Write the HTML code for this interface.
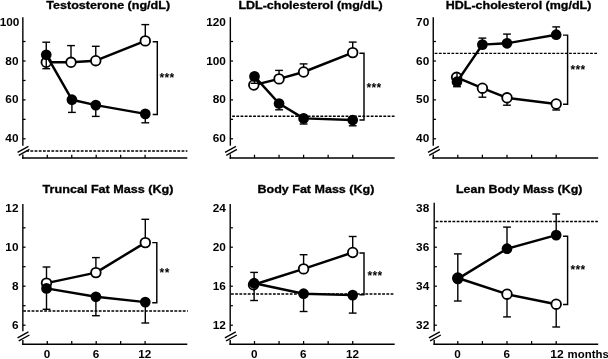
<!DOCTYPE html>
<html><head><meta charset="utf-8"><title>Figure</title>
<style>
html,body{margin:0;padding:0;background:#fff;}
body{width:608px;height:359px;overflow:hidden;}
svg{display:block;}
text{font-family:"Liberation Sans",Arial,Helvetica,sans-serif;font-weight:bold;fill:#000;}
.t{stroke:#000;stroke-width:0.3px;}
</style></head><body>
<svg width="608" height="359" viewBox="0 0 608 359">
<rect width="608" height="359" fill="#fff"/>
<g>
<text class="t" x="46.30" y="8.70" font-size="10.9" text-anchor="start" textLength="123.8" lengthAdjust="spacingAndGlyphs">Testosterone (ng/dL)</text>
<line x1="22.85" y1="17.20" x2="22.85" y2="145.70" stroke="#000" stroke-width="1.4" />
<line x1="22.85" y1="154.40" x2="22.85" y2="158.70" stroke="#000" stroke-width="1.4" />
<line x1="22.15" y1="158.00" x2="187.30" y2="158.00" stroke="#000" stroke-width="1.4" />
<line x1="17.55" y1="152.30" x2="28.45" y2="146.30" stroke="#000" stroke-width="1.35" />
<line x1="18.75" y1="155.30" x2="29.45" y2="149.40" stroke="#000" stroke-width="1.35" />
<line x1="22.85" y1="41.50" x2="25.55" y2="41.50" stroke="#000" stroke-width="1.25" />
<line x1="22.85" y1="61.00" x2="25.55" y2="61.00" stroke="#000" stroke-width="1.25" />
<line x1="22.85" y1="80.45" x2="25.55" y2="80.45" stroke="#000" stroke-width="1.25" />
<line x1="22.85" y1="99.90" x2="25.55" y2="99.90" stroke="#000" stroke-width="1.25" />
<line x1="22.85" y1="119.35" x2="25.55" y2="119.35" stroke="#000" stroke-width="1.25" />
<line x1="22.85" y1="138.80" x2="25.55" y2="138.80" stroke="#000" stroke-width="1.25" />
<line x1="47.30" y1="158.00" x2="47.30" y2="154.70" stroke="#000" stroke-width="1.25" />
<line x1="71.75" y1="158.00" x2="71.75" y2="154.70" stroke="#000" stroke-width="1.25" />
<line x1="96.20" y1="158.00" x2="96.20" y2="154.70" stroke="#000" stroke-width="1.25" />
<line x1="120.65" y1="158.00" x2="120.65" y2="154.70" stroke="#000" stroke-width="1.25" />
<line x1="145.10" y1="158.00" x2="145.10" y2="154.70" stroke="#000" stroke-width="1.25" />
<text transform="translate(19.40,25.70) scale(1.17,1)" font-size="10.1" text-anchor="end">100</text>
<text transform="translate(18.50,64.50) scale(1.17,1)" font-size="10.1" text-anchor="end">80</text>
<text transform="translate(18.50,103.40) scale(1.17,1)" font-size="10.1" text-anchor="end">60</text>
<text transform="translate(18.50,142.30) scale(1.17,1)" font-size="10.1" text-anchor="end">40</text>
<line x1="26.70" y1="150.90" x2="187.40" y2="150.90" stroke="#000" stroke-width="1.5" stroke-dasharray="2.8 1.4" stroke-dashoffset="0.54"/>
<line x1="71.01" y1="62.30" x2="71.01" y2="45.60" stroke="#000" stroke-width="1.4" />
<line x1="67.11" y1="45.60" x2="74.91" y2="45.60" stroke="#000" stroke-width="1.4" />
<line x1="95.77" y1="60.70" x2="95.77" y2="46.30" stroke="#000" stroke-width="1.4" />
<line x1="91.87" y1="46.30" x2="99.67" y2="46.30" stroke="#000" stroke-width="1.4" />
<line x1="145.29" y1="40.90" x2="145.29" y2="24.60" stroke="#000" stroke-width="1.4" />
<line x1="141.39" y1="24.60" x2="149.19" y2="24.60" stroke="#000" stroke-width="1.4" />
<polyline points="46.25,62.30 71.01,62.30 95.77,60.70 145.29,40.90" fill="none" stroke="#000" stroke-width="2.45" stroke-linejoin="round"/>
<circle cx="46.25" cy="62.30" r="4.8" fill="#fff" stroke="#000" stroke-width="1.8"/>
<circle cx="71.01" cy="62.30" r="4.8" fill="#fff" stroke="#000" stroke-width="1.8"/>
<circle cx="95.77" cy="60.70" r="4.8" fill="#fff" stroke="#000" stroke-width="1.8"/>
<circle cx="145.29" cy="40.90" r="4.8" fill="#fff" stroke="#000" stroke-width="1.8"/>
<line x1="46.25" y1="54.80" x2="46.25" y2="42.20" stroke="#000" stroke-width="1.4" />
<line x1="42.35" y1="42.20" x2="50.15" y2="42.20" stroke="#000" stroke-width="1.4" />
<line x1="46.25" y1="54.80" x2="46.25" y2="68.70" stroke="#000" stroke-width="1.4" />
<line x1="42.35" y1="68.70" x2="50.15" y2="68.70" stroke="#000" stroke-width="1.4" />
<line x1="71.91" y1="99.70" x2="71.91" y2="112.40" stroke="#000" stroke-width="1.4" />
<line x1="68.01" y1="112.40" x2="75.81" y2="112.40" stroke="#000" stroke-width="1.4" />
<line x1="95.77" y1="105.10" x2="95.77" y2="116.40" stroke="#000" stroke-width="1.4" />
<line x1="91.87" y1="116.40" x2="99.67" y2="116.40" stroke="#000" stroke-width="1.4" />
<line x1="145.29" y1="113.90" x2="145.29" y2="122.80" stroke="#000" stroke-width="1.4" />
<line x1="141.39" y1="122.80" x2="149.19" y2="122.80" stroke="#000" stroke-width="1.4" />
<polyline points="46.25,54.80 71.91,99.70 95.77,105.10 145.29,113.90" fill="none" stroke="#000" stroke-width="2.45" stroke-linejoin="round"/>
<circle cx="46.25" cy="54.80" r="5.35" fill="#000"/>
<circle cx="71.91" cy="99.70" r="5.35" fill="#000"/>
<circle cx="95.77" cy="105.10" r="5.35" fill="#000"/>
<circle cx="145.29" cy="113.90" r="5.35" fill="#000"/>
<polyline points="152.70,41.80 157.30,41.80 157.30,114.50 152.70,114.50" fill="none" stroke="#000" stroke-width="1.45"/>
<text x="159.60" y="81.80" font-size="12" textLength="14.61" lengthAdjust="spacing">***</text>
</g>
<g>
<text class="t" x="238.40" y="8.70" font-size="10.9" text-anchor="start" textLength="144.3" lengthAdjust="spacingAndGlyphs">LDL-cholesterol (mg/dL)</text>
<line x1="230.35" y1="17.20" x2="230.35" y2="145.70" stroke="#000" stroke-width="1.4" />
<line x1="230.35" y1="154.40" x2="230.35" y2="158.70" stroke="#000" stroke-width="1.4" />
<line x1="229.65" y1="158.00" x2="394.70" y2="158.00" stroke="#000" stroke-width="1.4" />
<line x1="225.05" y1="152.30" x2="235.95" y2="146.30" stroke="#000" stroke-width="1.35" />
<line x1="226.25" y1="155.30" x2="236.95" y2="149.40" stroke="#000" stroke-width="1.35" />
<line x1="230.35" y1="41.50" x2="233.05" y2="41.50" stroke="#000" stroke-width="1.25" />
<line x1="230.35" y1="61.00" x2="233.05" y2="61.00" stroke="#000" stroke-width="1.25" />
<line x1="230.35" y1="80.45" x2="233.05" y2="80.45" stroke="#000" stroke-width="1.25" />
<line x1="230.35" y1="99.90" x2="233.05" y2="99.90" stroke="#000" stroke-width="1.25" />
<line x1="230.35" y1="119.35" x2="233.05" y2="119.35" stroke="#000" stroke-width="1.25" />
<line x1="230.35" y1="138.80" x2="233.05" y2="138.80" stroke="#000" stroke-width="1.25" />
<line x1="254.50" y1="158.00" x2="254.50" y2="154.70" stroke="#000" stroke-width="1.25" />
<line x1="279.05" y1="158.00" x2="279.05" y2="154.70" stroke="#000" stroke-width="1.25" />
<line x1="303.60" y1="158.00" x2="303.60" y2="154.70" stroke="#000" stroke-width="1.25" />
<line x1="328.15" y1="158.00" x2="328.15" y2="154.70" stroke="#000" stroke-width="1.25" />
<line x1="352.70" y1="158.00" x2="352.70" y2="154.70" stroke="#000" stroke-width="1.25" />
<text transform="translate(225.90,25.70) scale(1.17,1)" font-size="10.1" text-anchor="end">120</text>
<text transform="translate(225.90,64.50) scale(1.17,1)" font-size="10.1" text-anchor="end">100</text>
<text transform="translate(225.90,103.40) scale(1.17,1)" font-size="10.1" text-anchor="end">80</text>
<text transform="translate(225.90,142.30) scale(1.17,1)" font-size="10.1" text-anchor="end">60</text>
<line x1="230.35" y1="116.30" x2="395.80" y2="116.30" stroke="#000" stroke-width="1.5" stroke-dasharray="2.8 1.4" stroke-dashoffset="2.40"/>
<line x1="279.05" y1="78.90" x2="279.05" y2="70.40" stroke="#000" stroke-width="1.4" />
<line x1="275.15" y1="70.40" x2="282.95" y2="70.40" stroke="#000" stroke-width="1.4" />
<line x1="303.60" y1="72.00" x2="303.60" y2="63.90" stroke="#000" stroke-width="1.4" />
<line x1="299.70" y1="63.90" x2="307.50" y2="63.90" stroke="#000" stroke-width="1.4" />
<line x1="352.70" y1="52.60" x2="352.70" y2="42.10" stroke="#000" stroke-width="1.4" />
<line x1="348.80" y1="42.10" x2="356.60" y2="42.10" stroke="#000" stroke-width="1.4" />
<polyline points="253.80,85.00 279.05,78.90 303.60,72.00 352.70,52.60" fill="none" stroke="#000" stroke-width="2.45" stroke-linejoin="round"/>
<circle cx="253.80" cy="85.00" r="4.8" fill="#fff" stroke="#000" stroke-width="1.8"/>
<circle cx="279.05" cy="78.90" r="4.8" fill="#fff" stroke="#000" stroke-width="1.8"/>
<circle cx="303.60" cy="72.00" r="4.8" fill="#fff" stroke="#000" stroke-width="1.8"/>
<circle cx="352.70" cy="52.60" r="4.8" fill="#fff" stroke="#000" stroke-width="1.8"/>
<line x1="254.50" y1="76.40" x2="254.50" y2="83.30" stroke="#000" stroke-width="1.4" />
<line x1="250.60" y1="83.30" x2="258.40" y2="83.30" stroke="#000" stroke-width="1.4" />
<line x1="279.05" y1="103.50" x2="279.05" y2="109.80" stroke="#000" stroke-width="1.4" />
<line x1="275.15" y1="109.80" x2="282.95" y2="109.80" stroke="#000" stroke-width="1.4" />
<line x1="303.60" y1="118.40" x2="303.60" y2="124.00" stroke="#000" stroke-width="1.4" />
<line x1="299.70" y1="124.00" x2="307.50" y2="124.00" stroke="#000" stroke-width="1.4" />
<line x1="352.70" y1="120.00" x2="352.70" y2="125.80" stroke="#000" stroke-width="1.4" />
<line x1="348.80" y1="125.80" x2="356.60" y2="125.80" stroke="#000" stroke-width="1.4" />
<polyline points="254.50,76.40 279.05,103.50 303.60,118.40 352.70,120.00" fill="none" stroke="#000" stroke-width="2.45" stroke-linejoin="round"/>
<circle cx="254.50" cy="76.40" r="5.35" fill="#000"/>
<circle cx="279.05" cy="103.50" r="5.35" fill="#000"/>
<circle cx="303.60" cy="118.40" r="5.35" fill="#000"/>
<circle cx="352.70" cy="120.00" r="5.35" fill="#000"/>
<polyline points="359.40,53.30 364.00,53.30 364.00,119.90 359.40,119.90" fill="none" stroke="#000" stroke-width="1.45"/>
<text x="366.60" y="91.70" font-size="12" textLength="14.61" lengthAdjust="spacing">***</text>
</g>
<g>
<text class="t" x="445.80" y="8.70" font-size="10.9" text-anchor="start" textLength="145.5" lengthAdjust="spacingAndGlyphs">HDL-cholesterol (mg/dL)</text>
<line x1="433.25" y1="17.20" x2="433.25" y2="145.70" stroke="#000" stroke-width="1.4" />
<line x1="433.25" y1="154.40" x2="433.25" y2="158.70" stroke="#000" stroke-width="1.4" />
<line x1="432.55" y1="158.00" x2="598.20" y2="158.00" stroke="#000" stroke-width="1.4" />
<line x1="427.95" y1="152.30" x2="438.85" y2="146.30" stroke="#000" stroke-width="1.35" />
<line x1="429.15" y1="155.30" x2="439.85" y2="149.40" stroke="#000" stroke-width="1.35" />
<line x1="433.25" y1="41.50" x2="435.95" y2="41.50" stroke="#000" stroke-width="1.25" />
<line x1="433.25" y1="61.00" x2="435.95" y2="61.00" stroke="#000" stroke-width="1.25" />
<line x1="433.25" y1="80.45" x2="435.95" y2="80.45" stroke="#000" stroke-width="1.25" />
<line x1="433.25" y1="99.90" x2="435.95" y2="99.90" stroke="#000" stroke-width="1.25" />
<line x1="433.25" y1="119.35" x2="435.95" y2="119.35" stroke="#000" stroke-width="1.25" />
<line x1="433.25" y1="138.80" x2="435.95" y2="138.80" stroke="#000" stroke-width="1.25" />
<line x1="457.80" y1="158.00" x2="457.80" y2="154.70" stroke="#000" stroke-width="1.25" />
<line x1="482.40" y1="158.00" x2="482.40" y2="154.70" stroke="#000" stroke-width="1.25" />
<line x1="507.00" y1="158.00" x2="507.00" y2="154.70" stroke="#000" stroke-width="1.25" />
<line x1="531.60" y1="158.00" x2="531.60" y2="154.70" stroke="#000" stroke-width="1.25" />
<line x1="556.20" y1="158.00" x2="556.20" y2="154.70" stroke="#000" stroke-width="1.25" />
<text transform="translate(429.20,25.70) scale(1.17,1)" font-size="10.1" text-anchor="end">70</text>
<text transform="translate(429.20,64.50) scale(1.17,1)" font-size="10.1" text-anchor="end">60</text>
<text transform="translate(429.20,103.40) scale(1.17,1)" font-size="10.1" text-anchor="end">50</text>
<text transform="translate(429.20,142.30) scale(1.17,1)" font-size="10.1" text-anchor="end">40</text>
<line x1="433.25" y1="53.35" x2="597.90" y2="53.35" stroke="#000" stroke-width="1.35" stroke-dasharray="2.8 1.4" stroke-dashoffset="2.79"/>
<line x1="482.40" y1="88.20" x2="482.40" y2="97.20" stroke="#000" stroke-width="1.4" />
<line x1="478.50" y1="97.20" x2="486.30" y2="97.20" stroke="#000" stroke-width="1.4" />
<line x1="507.00" y1="97.80" x2="507.00" y2="105.20" stroke="#000" stroke-width="1.4" />
<line x1="503.10" y1="105.20" x2="510.90" y2="105.20" stroke="#000" stroke-width="1.4" />
<line x1="556.20" y1="104.00" x2="556.20" y2="110.00" stroke="#000" stroke-width="1.4" />
<line x1="552.30" y1="110.00" x2="560.10" y2="110.00" stroke="#000" stroke-width="1.4" />
<polyline points="456.60,77.30 482.40,88.20 507.00,97.80 556.20,104.00" fill="none" stroke="#000" stroke-width="2.45" stroke-linejoin="round"/>
<circle cx="456.60" cy="77.30" r="4.8" fill="#fff" stroke="#000" stroke-width="1.8"/>
<circle cx="482.40" cy="88.20" r="4.8" fill="#fff" stroke="#000" stroke-width="1.8"/>
<circle cx="507.00" cy="97.80" r="4.8" fill="#fff" stroke="#000" stroke-width="1.8"/>
<circle cx="556.20" cy="104.00" r="4.8" fill="#fff" stroke="#000" stroke-width="1.8"/>
<line x1="457.00" y1="81.70" x2="457.00" y2="73.20" stroke="#000" stroke-width="1.4" />
<line x1="457.00" y1="81.70" x2="457.00" y2="86.70" stroke="#000" stroke-width="1.4" />
<line x1="453.10" y1="86.70" x2="460.90" y2="86.70" stroke="#000" stroke-width="1.4" />
<line x1="482.40" y1="44.60" x2="482.40" y2="38.10" stroke="#000" stroke-width="1.4" />
<line x1="478.50" y1="38.10" x2="486.30" y2="38.10" stroke="#000" stroke-width="1.4" />
<line x1="507.00" y1="43.30" x2="507.00" y2="34.10" stroke="#000" stroke-width="1.4" />
<line x1="503.10" y1="34.10" x2="510.90" y2="34.10" stroke="#000" stroke-width="1.4" />
<line x1="556.20" y1="34.70" x2="556.20" y2="26.90" stroke="#000" stroke-width="1.4" />
<line x1="552.30" y1="26.90" x2="560.10" y2="26.90" stroke="#000" stroke-width="1.4" />
<polyline points="457.00,81.70 482.40,44.60 507.00,43.30 556.20,34.70" fill="none" stroke="#000" stroke-width="2.45" stroke-linejoin="round"/>
<circle cx="457.00" cy="81.70" r="5.35" fill="#000"/>
<circle cx="482.40" cy="44.60" r="5.35" fill="#000"/>
<circle cx="507.00" cy="43.30" r="5.35" fill="#000"/>
<circle cx="556.20" cy="34.70" r="5.35" fill="#000"/>
<polyline points="563.00,35.10 567.60,35.10 567.60,104.20 563.00,104.20" fill="none" stroke="#000" stroke-width="1.45"/>
<text x="570.60" y="74.20" font-size="12" textLength="14.61" lengthAdjust="spacing">***</text>
</g>
<g>
<text class="t" x="42.60" y="193.40" font-size="10.9" text-anchor="start" textLength="130.9" lengthAdjust="spacingAndGlyphs">Truncal Fat Mass (Kg)</text>
<line x1="22.85" y1="203.90" x2="22.85" y2="331.30" stroke="#000" stroke-width="1.4" />
<line x1="22.85" y1="340.00" x2="22.85" y2="345.00" stroke="#000" stroke-width="1.4" />
<line x1="22.15" y1="344.30" x2="187.30" y2="344.30" stroke="#000" stroke-width="1.4" />
<line x1="17.55" y1="337.90" x2="28.45" y2="331.90" stroke="#000" stroke-width="1.35" />
<line x1="18.75" y1="340.90" x2="29.45" y2="335.00" stroke="#000" stroke-width="1.35" />
<line x1="22.85" y1="227.80" x2="25.55" y2="227.80" stroke="#000" stroke-width="1.25" />
<line x1="22.85" y1="247.20" x2="25.55" y2="247.20" stroke="#000" stroke-width="1.25" />
<line x1="22.85" y1="266.70" x2="25.55" y2="266.70" stroke="#000" stroke-width="1.25" />
<line x1="22.85" y1="286.20" x2="25.55" y2="286.20" stroke="#000" stroke-width="1.25" />
<line x1="22.85" y1="305.70" x2="25.55" y2="305.70" stroke="#000" stroke-width="1.25" />
<line x1="22.85" y1="325.20" x2="25.55" y2="325.20" stroke="#000" stroke-width="1.25" />
<line x1="47.30" y1="344.30" x2="47.30" y2="341.00" stroke="#000" stroke-width="1.25" />
<line x1="71.75" y1="344.30" x2="71.75" y2="341.00" stroke="#000" stroke-width="1.25" />
<line x1="96.20" y1="344.30" x2="96.20" y2="341.00" stroke="#000" stroke-width="1.25" />
<line x1="120.65" y1="344.30" x2="120.65" y2="341.00" stroke="#000" stroke-width="1.25" />
<line x1="145.10" y1="344.30" x2="145.10" y2="341.00" stroke="#000" stroke-width="1.25" />
<text transform="translate(18.50,211.80) scale(1.17,1)" font-size="10.1" text-anchor="end">12</text>
<text transform="translate(18.50,250.70) scale(1.17,1)" font-size="10.1" text-anchor="end">10</text>
<text transform="translate(18.50,289.80) scale(1.17,1)" font-size="10.1" text-anchor="end">8</text>
<text transform="translate(18.50,328.70) scale(1.17,1)" font-size="10.1" text-anchor="end">6</text>
<line x1="22.85" y1="311.00" x2="187.80" y2="311.00" stroke="#000" stroke-width="1.5" stroke-dasharray="2.8 1.4" stroke-dashoffset="3.87"/>
<line x1="46.50" y1="283.10" x2="46.50" y2="267.00" stroke="#000" stroke-width="1.4" />
<line x1="42.60" y1="267.00" x2="50.40" y2="267.00" stroke="#000" stroke-width="1.4" />
<line x1="95.90" y1="272.60" x2="95.90" y2="257.60" stroke="#000" stroke-width="1.4" />
<line x1="92.00" y1="257.60" x2="99.80" y2="257.60" stroke="#000" stroke-width="1.4" />
<line x1="145.30" y1="242.60" x2="145.30" y2="219.30" stroke="#000" stroke-width="1.4" />
<line x1="141.40" y1="219.30" x2="149.20" y2="219.30" stroke="#000" stroke-width="1.4" />
<polyline points="46.50,283.10 95.90,272.60 145.30,242.60" fill="none" stroke="#000" stroke-width="2.45" stroke-linejoin="round"/>
<circle cx="46.50" cy="283.10" r="4.8" fill="#fff" stroke="#000" stroke-width="1.8"/>
<circle cx="95.90" cy="272.60" r="4.8" fill="#fff" stroke="#000" stroke-width="1.8"/>
<circle cx="145.30" cy="242.60" r="4.8" fill="#fff" stroke="#000" stroke-width="1.8"/>
<line x1="46.50" y1="288.40" x2="46.50" y2="309.30" stroke="#000" stroke-width="1.4" />
<line x1="42.60" y1="309.30" x2="50.40" y2="309.30" stroke="#000" stroke-width="1.4" />
<line x1="95.90" y1="296.80" x2="95.90" y2="315.70" stroke="#000" stroke-width="1.4" />
<line x1="92.00" y1="315.70" x2="99.80" y2="315.70" stroke="#000" stroke-width="1.4" />
<line x1="145.30" y1="302.10" x2="145.30" y2="323.00" stroke="#000" stroke-width="1.4" />
<line x1="141.40" y1="323.00" x2="149.20" y2="323.00" stroke="#000" stroke-width="1.4" />
<polyline points="46.50,288.40 95.90,296.80 145.30,302.10" fill="none" stroke="#000" stroke-width="2.45" stroke-linejoin="round"/>
<circle cx="46.50" cy="288.40" r="5.35" fill="#000"/>
<circle cx="95.90" cy="296.80" r="5.35" fill="#000"/>
<circle cx="145.30" cy="302.10" r="5.35" fill="#000"/>
<polyline points="152.20,242.60 156.80,242.60 156.80,302.80 152.20,302.80" fill="none" stroke="#000" stroke-width="1.45"/>
<text x="159.60" y="276.80" font-size="12" textLength="9.74" lengthAdjust="spacing">**</text>
<text transform="translate(47.00,358.30) scale(1.16,1)" font-size="10.1" text-anchor="middle">0</text>
<text transform="translate(95.90,358.30) scale(1.16,1)" font-size="10.1" text-anchor="middle">6</text>
<text transform="translate(144.80,358.30) scale(1.16,1)" font-size="10.1" text-anchor="middle">12</text>
</g>
<g>
<text class="t" x="257.50" y="193.40" font-size="10.9" text-anchor="start" textLength="116.8" lengthAdjust="spacingAndGlyphs">Body Fat Mass (Kg)</text>
<line x1="230.20" y1="203.90" x2="230.20" y2="331.30" stroke="#000" stroke-width="1.4" />
<line x1="230.20" y1="340.00" x2="230.20" y2="345.00" stroke="#000" stroke-width="1.4" />
<line x1="229.50" y1="344.30" x2="394.70" y2="344.30" stroke="#000" stroke-width="1.4" />
<line x1="224.90" y1="337.90" x2="235.80" y2="331.90" stroke="#000" stroke-width="1.35" />
<line x1="226.10" y1="340.90" x2="236.80" y2="335.00" stroke="#000" stroke-width="1.35" />
<line x1="230.20" y1="227.80" x2="232.90" y2="227.80" stroke="#000" stroke-width="1.25" />
<line x1="230.20" y1="247.20" x2="232.90" y2="247.20" stroke="#000" stroke-width="1.25" />
<line x1="230.20" y1="266.70" x2="232.90" y2="266.70" stroke="#000" stroke-width="1.25" />
<line x1="230.20" y1="286.20" x2="232.90" y2="286.20" stroke="#000" stroke-width="1.25" />
<line x1="230.20" y1="305.70" x2="232.90" y2="305.70" stroke="#000" stroke-width="1.25" />
<line x1="230.20" y1="325.20" x2="232.90" y2="325.20" stroke="#000" stroke-width="1.25" />
<line x1="254.50" y1="344.30" x2="254.50" y2="341.00" stroke="#000" stroke-width="1.25" />
<line x1="279.05" y1="344.30" x2="279.05" y2="341.00" stroke="#000" stroke-width="1.25" />
<line x1="303.60" y1="344.30" x2="303.60" y2="341.00" stroke="#000" stroke-width="1.25" />
<line x1="328.15" y1="344.30" x2="328.15" y2="341.00" stroke="#000" stroke-width="1.25" />
<line x1="352.70" y1="344.30" x2="352.70" y2="341.00" stroke="#000" stroke-width="1.25" />
<text transform="translate(225.90,211.80) scale(1.17,1)" font-size="10.1" text-anchor="end">24</text>
<text transform="translate(225.90,250.70) scale(1.17,1)" font-size="10.1" text-anchor="end">20</text>
<text transform="translate(225.90,289.80) scale(1.17,1)" font-size="10.1" text-anchor="end">16</text>
<text transform="translate(225.90,328.70) scale(1.17,1)" font-size="10.1" text-anchor="end">12</text>
<line x1="230.20" y1="294.00" x2="394.80" y2="294.00" stroke="#000" stroke-width="1.5" stroke-dasharray="2.8 1.4" stroke-dashoffset="3.43"/>
<line x1="303.60" y1="268.90" x2="303.60" y2="254.70" stroke="#000" stroke-width="1.4" />
<line x1="299.70" y1="254.70" x2="307.50" y2="254.70" stroke="#000" stroke-width="1.4" />
<line x1="352.70" y1="252.50" x2="352.70" y2="236.50" stroke="#000" stroke-width="1.4" />
<line x1="348.80" y1="236.50" x2="356.60" y2="236.50" stroke="#000" stroke-width="1.4" />
<polyline points="253.50,284.80 303.60,268.90 352.70,252.50" fill="none" stroke="#000" stroke-width="2.45" stroke-linejoin="round"/>
<circle cx="253.50" cy="284.80" r="4.8" fill="#fff" stroke="#000" stroke-width="1.8"/>
<circle cx="303.60" cy="268.90" r="4.8" fill="#fff" stroke="#000" stroke-width="1.8"/>
<circle cx="352.70" cy="252.50" r="4.8" fill="#fff" stroke="#000" stroke-width="1.8"/>
<line x1="254.10" y1="283.20" x2="254.10" y2="272.40" stroke="#000" stroke-width="1.4" />
<line x1="250.20" y1="272.40" x2="258.00" y2="272.40" stroke="#000" stroke-width="1.4" />
<line x1="254.10" y1="283.20" x2="254.10" y2="300.50" stroke="#000" stroke-width="1.4" />
<line x1="250.20" y1="300.50" x2="258.00" y2="300.50" stroke="#000" stroke-width="1.4" />
<line x1="303.60" y1="293.70" x2="303.60" y2="311.50" stroke="#000" stroke-width="1.4" />
<line x1="299.70" y1="311.50" x2="307.50" y2="311.50" stroke="#000" stroke-width="1.4" />
<line x1="352.70" y1="295.10" x2="352.70" y2="313.10" stroke="#000" stroke-width="1.4" />
<line x1="348.80" y1="313.10" x2="356.60" y2="313.10" stroke="#000" stroke-width="1.4" />
<polyline points="254.10,283.20 303.60,293.70 352.70,295.10" fill="none" stroke="#000" stroke-width="2.45" stroke-linejoin="round"/>
<circle cx="254.10" cy="283.20" r="5.35" fill="#000"/>
<circle cx="303.60" cy="293.70" r="5.35" fill="#000"/>
<circle cx="352.70" cy="295.10" r="5.35" fill="#000"/>
<polyline points="359.40,252.90 364.00,252.90 364.00,294.70 359.40,294.70" fill="none" stroke="#000" stroke-width="1.45"/>
<text x="367.60" y="280.40" font-size="12" textLength="14.61" lengthAdjust="spacing">***</text>
<text transform="translate(254.20,358.30) scale(1.16,1)" font-size="10.1" text-anchor="middle">0</text>
<text transform="translate(303.30,358.30) scale(1.16,1)" font-size="10.1" text-anchor="middle">6</text>
<text transform="translate(352.40,358.30) scale(1.16,1)" font-size="10.1" text-anchor="middle">12</text>
</g>
<g>
<text class="t" x="456.00" y="193.40" font-size="10.9" text-anchor="start" textLength="126.4" lengthAdjust="spacingAndGlyphs">Lean Body Mass (Kg)</text>
<line x1="434.20" y1="202.80" x2="434.20" y2="331.30" stroke="#000" stroke-width="1.4" />
<line x1="434.20" y1="340.00" x2="434.20" y2="345.00" stroke="#000" stroke-width="1.4" />
<line x1="433.50" y1="344.30" x2="598.20" y2="344.30" stroke="#000" stroke-width="1.4" />
<line x1="428.90" y1="337.90" x2="439.80" y2="331.90" stroke="#000" stroke-width="1.35" />
<line x1="430.10" y1="340.90" x2="440.80" y2="335.00" stroke="#000" stroke-width="1.35" />
<line x1="434.20" y1="227.80" x2="436.90" y2="227.80" stroke="#000" stroke-width="1.25" />
<line x1="434.20" y1="247.20" x2="436.90" y2="247.20" stroke="#000" stroke-width="1.25" />
<line x1="434.20" y1="266.70" x2="436.90" y2="266.70" stroke="#000" stroke-width="1.25" />
<line x1="434.20" y1="286.20" x2="436.90" y2="286.20" stroke="#000" stroke-width="1.25" />
<line x1="434.20" y1="305.70" x2="436.90" y2="305.70" stroke="#000" stroke-width="1.25" />
<line x1="434.20" y1="325.20" x2="436.90" y2="325.20" stroke="#000" stroke-width="1.25" />
<line x1="457.80" y1="344.30" x2="457.80" y2="341.00" stroke="#000" stroke-width="1.25" />
<line x1="482.40" y1="344.30" x2="482.40" y2="341.00" stroke="#000" stroke-width="1.25" />
<line x1="507.00" y1="344.30" x2="507.00" y2="341.00" stroke="#000" stroke-width="1.25" />
<line x1="531.60" y1="344.30" x2="531.60" y2="341.00" stroke="#000" stroke-width="1.25" />
<line x1="556.20" y1="344.30" x2="556.20" y2="341.00" stroke="#000" stroke-width="1.25" />
<text transform="translate(429.20,211.80) scale(1.17,1)" font-size="10.1" text-anchor="end">38</text>
<text transform="translate(429.20,250.70) scale(1.17,1)" font-size="10.1" text-anchor="end">36</text>
<text transform="translate(429.20,289.80) scale(1.17,1)" font-size="10.1" text-anchor="end">34</text>
<text transform="translate(429.20,328.70) scale(1.17,1)" font-size="10.1" text-anchor="end">32</text>
<line x1="434.20" y1="221.40" x2="597.90" y2="221.40" stroke="#000" stroke-width="1.5" stroke-dasharray="2.8 1.4" stroke-dashoffset="2.75"/>
<line x1="507.00" y1="294.20" x2="507.00" y2="316.90" stroke="#000" stroke-width="1.4" />
<line x1="503.10" y1="316.90" x2="510.90" y2="316.90" stroke="#000" stroke-width="1.4" />
<line x1="556.20" y1="304.20" x2="556.20" y2="327.00" stroke="#000" stroke-width="1.4" />
<line x1="552.30" y1="327.00" x2="560.10" y2="327.00" stroke="#000" stroke-width="1.4" />
<polyline points="457.80,278.00 507.00,294.20 556.20,304.20" fill="none" stroke="#000" stroke-width="2.45" stroke-linejoin="round"/>
<circle cx="457.80" cy="278.00" r="4.8" fill="#fff" stroke="#000" stroke-width="1.8"/>
<circle cx="507.00" cy="294.20" r="4.8" fill="#fff" stroke="#000" stroke-width="1.8"/>
<circle cx="556.20" cy="304.20" r="4.8" fill="#fff" stroke="#000" stroke-width="1.8"/>
<line x1="457.80" y1="278.90" x2="457.80" y2="253.90" stroke="#000" stroke-width="1.4" />
<line x1="453.90" y1="253.90" x2="461.70" y2="253.90" stroke="#000" stroke-width="1.4" />
<line x1="457.80" y1="278.90" x2="457.80" y2="301.00" stroke="#000" stroke-width="1.4" />
<line x1="453.90" y1="301.00" x2="461.70" y2="301.00" stroke="#000" stroke-width="1.4" />
<line x1="507.00" y1="248.70" x2="507.00" y2="227.10" stroke="#000" stroke-width="1.4" />
<line x1="503.10" y1="227.10" x2="510.90" y2="227.10" stroke="#000" stroke-width="1.4" />
<line x1="556.20" y1="235.10" x2="556.20" y2="214.00" stroke="#000" stroke-width="1.4" />
<line x1="552.30" y1="214.00" x2="560.10" y2="214.00" stroke="#000" stroke-width="1.4" />
<polyline points="457.80,278.90 507.00,248.70 556.20,235.10" fill="none" stroke="#000" stroke-width="2.45" stroke-linejoin="round"/>
<circle cx="457.80" cy="278.90" r="5.35" fill="#000"/>
<circle cx="507.00" cy="248.70" r="5.35" fill="#000"/>
<circle cx="556.20" cy="235.10" r="5.35" fill="#000"/>
<polyline points="563.00,236.30 567.60,236.30 567.60,304.40 563.00,304.40" fill="none" stroke="#000" stroke-width="1.45"/>
<text x="570.60" y="274.10" font-size="12" textLength="14.61" lengthAdjust="spacing">***</text>
<text transform="translate(457.50,358.30) scale(1.16,1)" font-size="10.1" text-anchor="middle">0</text>
<text transform="translate(506.70,358.30) scale(1.16,1)" font-size="10.1" text-anchor="middle">6</text>
<text y="358.3" font-size="10.1"><tspan x="550.3" textLength="13.4" lengthAdjust="spacingAndGlyphs">12</tspan> <tspan x="567.6" textLength="41.2" lengthAdjust="spacingAndGlyphs">months</tspan></text>
</g>
</svg>
</body></html>
